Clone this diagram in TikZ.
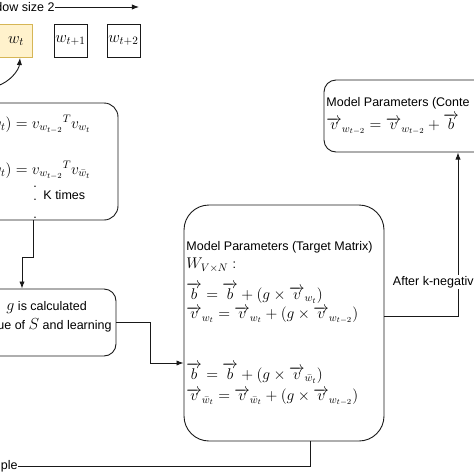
\RequirePackage{fix-cm}
\documentclass[tikz,border=0pt]{standalone}
\usepackage{amsmath,amssymb}
\usepackage{fontspec}
\setmainfont{Liberation Sans}
\usetikzlibrary{arrows.meta,calc,positioning}
\definecolor{NoteYellow}{RGB}{255,242,204}
\definecolor{NoteGold}{RGB}{214,182,86}
\definecolor{InkGray}{RGB}{25,25,25}
\tikzset{
  lbl/.style={inner sep=0pt,font=\fontsize{12.5}{15}\selectfont},
  eqn/.style={inner sep=0pt,font=\fontsize{15.5}{19}\selectfont},
  wordbox/.style={draw=InkGray,minimum width=33pt,minimum height=33pt,inner sep=0pt,font=\fontsize{16}{19}\selectfont},
  roundbox/.style={draw=InkGray,rounded corners=#1,inner sep=0pt},
}

\begin{document}
\begin{tikzpicture}[x=1pt,y=-1pt,>=Latex,line width=0.9pt,draw=InkGray]
  \useasboundingbox (0,0) rectangle (474,474);
  \clip (0,0) rectangle (474,474);
  % window of context words
  \node[lbl,anchor=east] (winlbl) at (55,7) {dow size 2};
  \coordinate (winend) at (139,7);
  \draw[->] (winlbl.east) -- (winend);
  \node[wordbox,fill=NoteYellow,draw=NoteGold] (wt) at (16,41) {$w_t$};
  \node[wordbox] (wtone) at (70.5,40.5) {$w_{t+1}$};
  \node[wordbox] (wttwo) at (123.5,40.5) {$w_{t+2}$};
  \coordinate (curvfrom) at (-3,86);
  \draw[->] (curvfrom) .. controls (10,82) and (19,70) .. ([xshift=4pt]wt.south);

  % scores
  \node[roundbox=14pt,minimum width=220pt,minimum height=117pt] (scorebox) at (8,161.5) {};
  \node[eqn,anchor=east] (posscore) at (91,124) {$w_t)= v_{w_{t-2}}{}^{T} v_{w_t}$};
  \node[eqn,anchor=east] (negscore) at (91,170) {$\bar{w}_t)= v_{w_{t-2}}{}^{T} v_{\bar{w}_t}$};
  \foreach \y/\n in {187/1,200/2,218/3}
    \node[lbl,anchor=base] (dot\n) at (35,\y) {.};
  \node[lbl,anchor=west] (ktimes) at (43,195) {K times};

  % gradient
  \node[roundbox=12pt,minimum width=216pt,minimum height=67pt] (gbox) at (8,322.5) {};
  \node[lbl,anchor=west] (gline) at (6,308) {{\fontsize{16}{19}\selectfont$g$} is calculated};
  \node[lbl,anchor=east] (sline) at (112,325) {ue of {\fontsize{16}{19}\selectfont$S$} and learning};
  \coordinate (bendA) at (33,257);
  \coordinate (bendB) at (22,257);
  \draw[->] (scorebox.south -| bendA) -- (bendA) -- (bendB) -- (gbox.north -| bendB);

  % target matrix
  \node[roundbox=25pt,minimum width=200pt,minimum height=236pt] (tbox) at (284,323) {};
  \node[lbl,anchor=west] (tgttitle) at (186,247) {Model Parameters (Target Matrix)};
  \node[eqn,anchor=west] (tgtdim) at (186,265) {$W_{V\times N}$ {\fontsize{12.5}{15}\selectfont:}};
  \node[eqn,anchor=west] (updb) at (186,293)
    {$\overrightarrow{b} = \overrightarrow{b} +(g\times \overrightarrow{v}_{w_t})$};
  \node[eqn,anchor=west] (updv) at (186,315)
    {$\overrightarrow{v}_{w_t} = \overrightarrow{v}_{w_t} +(g\times \overrightarrow{v}_{w_{t-2}})$};
  \node[eqn,anchor=west] (updnb) at (186,373)
    {$\overrightarrow{b} = \overrightarrow{b} +(g\times \overrightarrow{v}_{\bar{w}_t})$};
  \node[eqn,anchor=west] (updnv) at (186,397)
    {$\overrightarrow{v}_{\bar{w}_t} = \overrightarrow{v}_{\bar{w}_t} +(g\times \overrightarrow{v}_{w_{t-2}})$};
  \coordinate (bendC) at (150,363);
  \draw[->] (gbox.east) -| (bendC) -- (tbox.west |- bendC);

  % context matrix
  \node[roundbox=12pt,minimum width=276pt,minimum height=72pt] (cbox) at (462,116) {};
  \node[lbl,anchor=west] (ctxtitle) at (326,103) {Model Parameters (Conte};
  \node[eqn,anchor=west] (updctx) at (326,124)
    {$\overrightarrow{v}_{w_{t-2}} = \overrightarrow{v}_{w_{t-2}} + \overrightarrow{b}$};
  \coordinate (bendD) at (458,316);
  \draw[->] (tbox.east |- bendD) -- (bendD) -- (cbox.south -| bendD);
  \node[lbl,anchor=west,fill=white,inner sep=1.5pt] (negnote) at (391,282) {After k-negative};

  % back to sampling
  \node[lbl,anchor=east] (smpl) at (18,466) {ple};
  \coordinate (bendE) at (310,466);
  \draw (tbox.south -| bendE) -- (bendE) -- (smpl.east);
\end{tikzpicture}
\end{document}
